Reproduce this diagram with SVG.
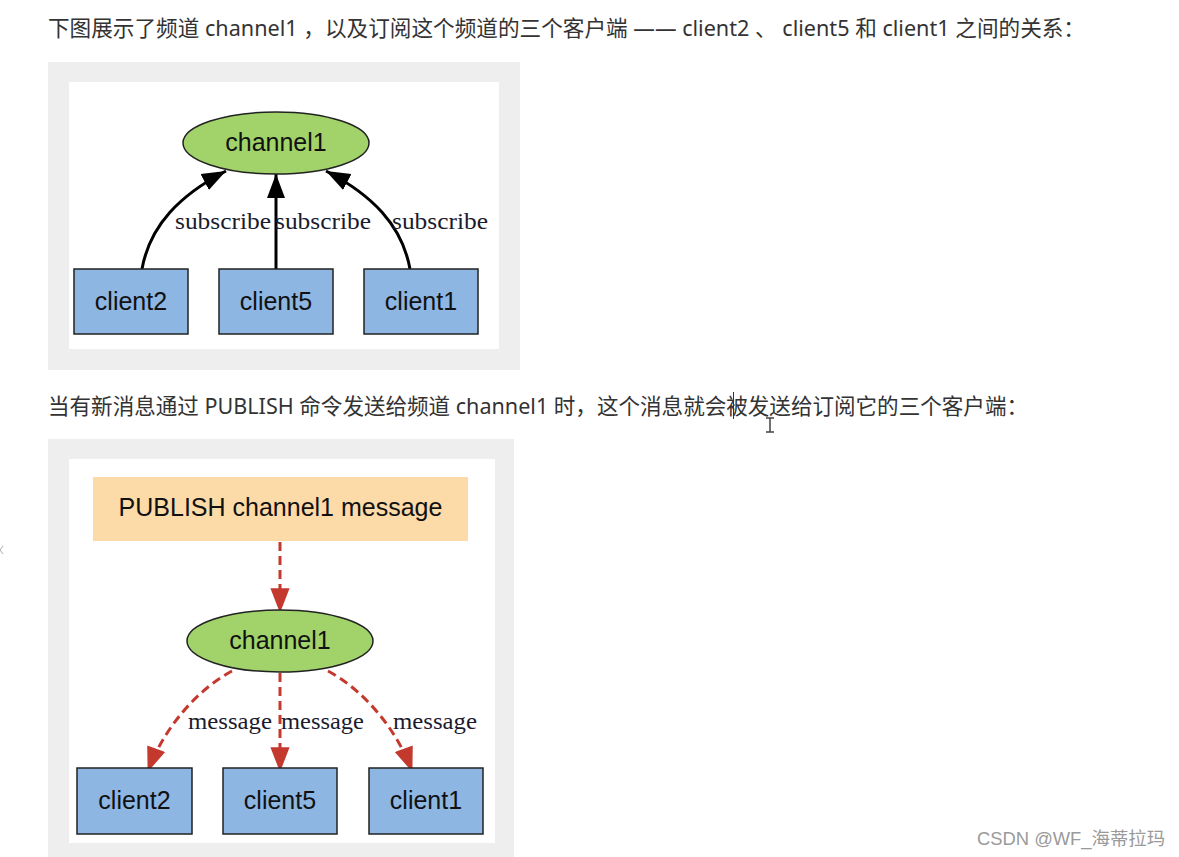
<svg xmlns="http://www.w3.org/2000/svg" width="1179" height="857" viewBox="0 0 1179 857">
<style>
.para{font-family:"Noto Sans","Noto Sans CJK SC",sans-serif;font-size:22px;fill:#333}
.panel{fill:#eeeeee}
.inner{fill:#ffffff}
.ch{fill:#a1d36a;stroke:#222;stroke-width:1.5}
.cl{fill:#8db6e3;stroke:#222;stroke-width:1.5}
.pub{fill:#fcdba8}
.nt{font-family:"Liberation Sans",Arial,sans-serif;font-size:25px;fill:#111;text-anchor:middle}
.lb{font-family:"Liberation Serif","Times New Roman",serif;font-size:24px;fill:#1b1b2e}
.sub{fill:none;stroke:#000;stroke-width:3}
.msg{fill:none;stroke:#c4392e;stroke-width:3;stroke-dasharray:9 5}
.wm{font-family:"Liberation Sans","Noto Sans CJK SC",sans-serif;font-size:18px;fill:#9a9a9a}
</style>
<defs>
<marker id="ab" markerUnits="userSpaceOnUse" markerWidth="26" markerHeight="22" viewBox="0 0 26 22" refX="24" refY="11" orient="auto">
<path d="M0,2 L24,11 L0,20 Z" fill="#000"/>
</marker>
<marker id="ar" markerUnits="userSpaceOnUse" markerWidth="26" markerHeight="22" viewBox="0 0 26 22" refX="24" refY="11" orient="auto">
<path d="M1,2.5 L23,11 L1,19.5 Z" fill="#c4392e" stroke="#c4392e" stroke-width="1.5"/>
</marker>
</defs>
<rect width="1179" height="857" fill="#ffffff"/>

<text class="para" x="48" y="36" textLength="1037" lengthAdjust="spacingAndGlyphs">下图展示了频道 channel1 ，以及订阅这个频道的三个客户端 —— client2 、 client5 和 client1 之间的关系：</text>
<text class="para" x="48" y="414" textLength="980" lengthAdjust="spacingAndGlyphs">当有新消息通过 PUBLISH 命令发送给频道 channel1 时，这个消息就会被发送给订阅它的三个客户端：</text>
<line x1="733.5" y1="392" x2="733.5" y2="419" stroke="#333" stroke-width="1"/>
<path d="M766,418 h8 M770,418 v14 M766,432 h8" stroke="#444" stroke-width="1.5" fill="none"/>
<path d="M3,546 L0,550 L3,554" stroke="#aaa" stroke-width="1" fill="none"/>

<!-- Panel 1 -->
<g id="panel1">
<rect class="panel" x="48" y="62" width="472" height="308"/>
<rect class="inner" x="69" y="82" width="430" height="267"/>
</g>
<g id="connectors1">
<path class="sub" d="M142,269 C150,225 180,195 226,171" marker-end="url(#ab)"/>
<path class="sub" d="M276,269 L276,174" marker-end="url(#ab)"/>
<path class="sub" d="M410,269 C402,225 372,195 326,171" marker-end="url(#ab)"/>
<text class="lb" x="175" y="229" textLength="96" lengthAdjust="spacingAndGlyphs">subscribe</text>
<text class="lb" x="275" y="229" textLength="96" lengthAdjust="spacingAndGlyphs">subscribe</text>
<text class="lb" x="392" y="229" textLength="96" lengthAdjust="spacingAndGlyphs">subscribe</text>
</g>
<g id="channel1-a">
<ellipse class="ch" cx="276" cy="143" rx="93" ry="31"/>
<text class="nt" x="276" y="151">channel1</text>
</g>
<g id="client2-a">
<rect class="cl" x="74" y="269" width="114" height="65"/>
<text class="nt" x="131" y="310">client2</text>
</g>
<g id="client5-a">
<rect class="cl" x="219" y="269" width="114" height="65"/>
<text class="nt" x="276" y="310">client5</text>
</g>
<g id="client1-a">
<rect class="cl" x="364" y="269" width="114" height="65"/>
<text class="nt" x="421" y="310">client1</text>
</g>

<!-- Panel 2 -->
<g id="panel2">
<rect class="panel" x="48" y="439" width="466" height="418"/>
<rect class="inner" x="69" y="459" width="426" height="384"/>
</g>
<g id="publish">
<rect class="pub" x="93" y="477" width="375" height="64"/>
<text class="nt" x="280.5" y="516">PUBLISH channel1 message</text>
</g>
<g id="connectors2">
<path class="msg" d="M280,542 L280,612" marker-end="url(#ar)"/>
<path class="msg" d="M232,671 C200,688 165,725 148,771" marker-end="url(#ar)"/>
<path class="msg" d="M280,673 L280,771" marker-end="url(#ar)"/>
<path class="msg" d="M328,671 C360,688 395,725 412,771" marker-end="url(#ar)"/>
<text class="lb" x="188" y="729" textLength="84" lengthAdjust="spacingAndGlyphs">message</text>
<text class="lb" x="281" y="729" textLength="83" lengthAdjust="spacingAndGlyphs">message</text>
<text class="lb" x="393" y="729" textLength="84" lengthAdjust="spacingAndGlyphs">message</text>
</g>
<g id="channel1-b">
<ellipse class="ch" cx="280" cy="641" rx="93" ry="31"/>
<text class="nt" x="280" y="649">channel1</text>
</g>
<g id="client2-b">
<rect class="cl" x="77" y="768" width="115" height="66"/>
<text class="nt" x="134.5" y="809">client2</text>
</g>
<g id="client5-b">
<rect class="cl" x="223" y="768" width="114" height="66"/>
<text class="nt" x="280" y="809">client5</text>
</g>
<g id="client1-b">
<rect class="cl" x="369" y="768" width="114" height="66"/>
<text class="nt" x="426" y="809">client1</text>
</g>

<text class="wm" x="977" y="845" textLength="188" lengthAdjust="spacingAndGlyphs">CSDN @WF_海蒂拉玛</text>
</svg>
